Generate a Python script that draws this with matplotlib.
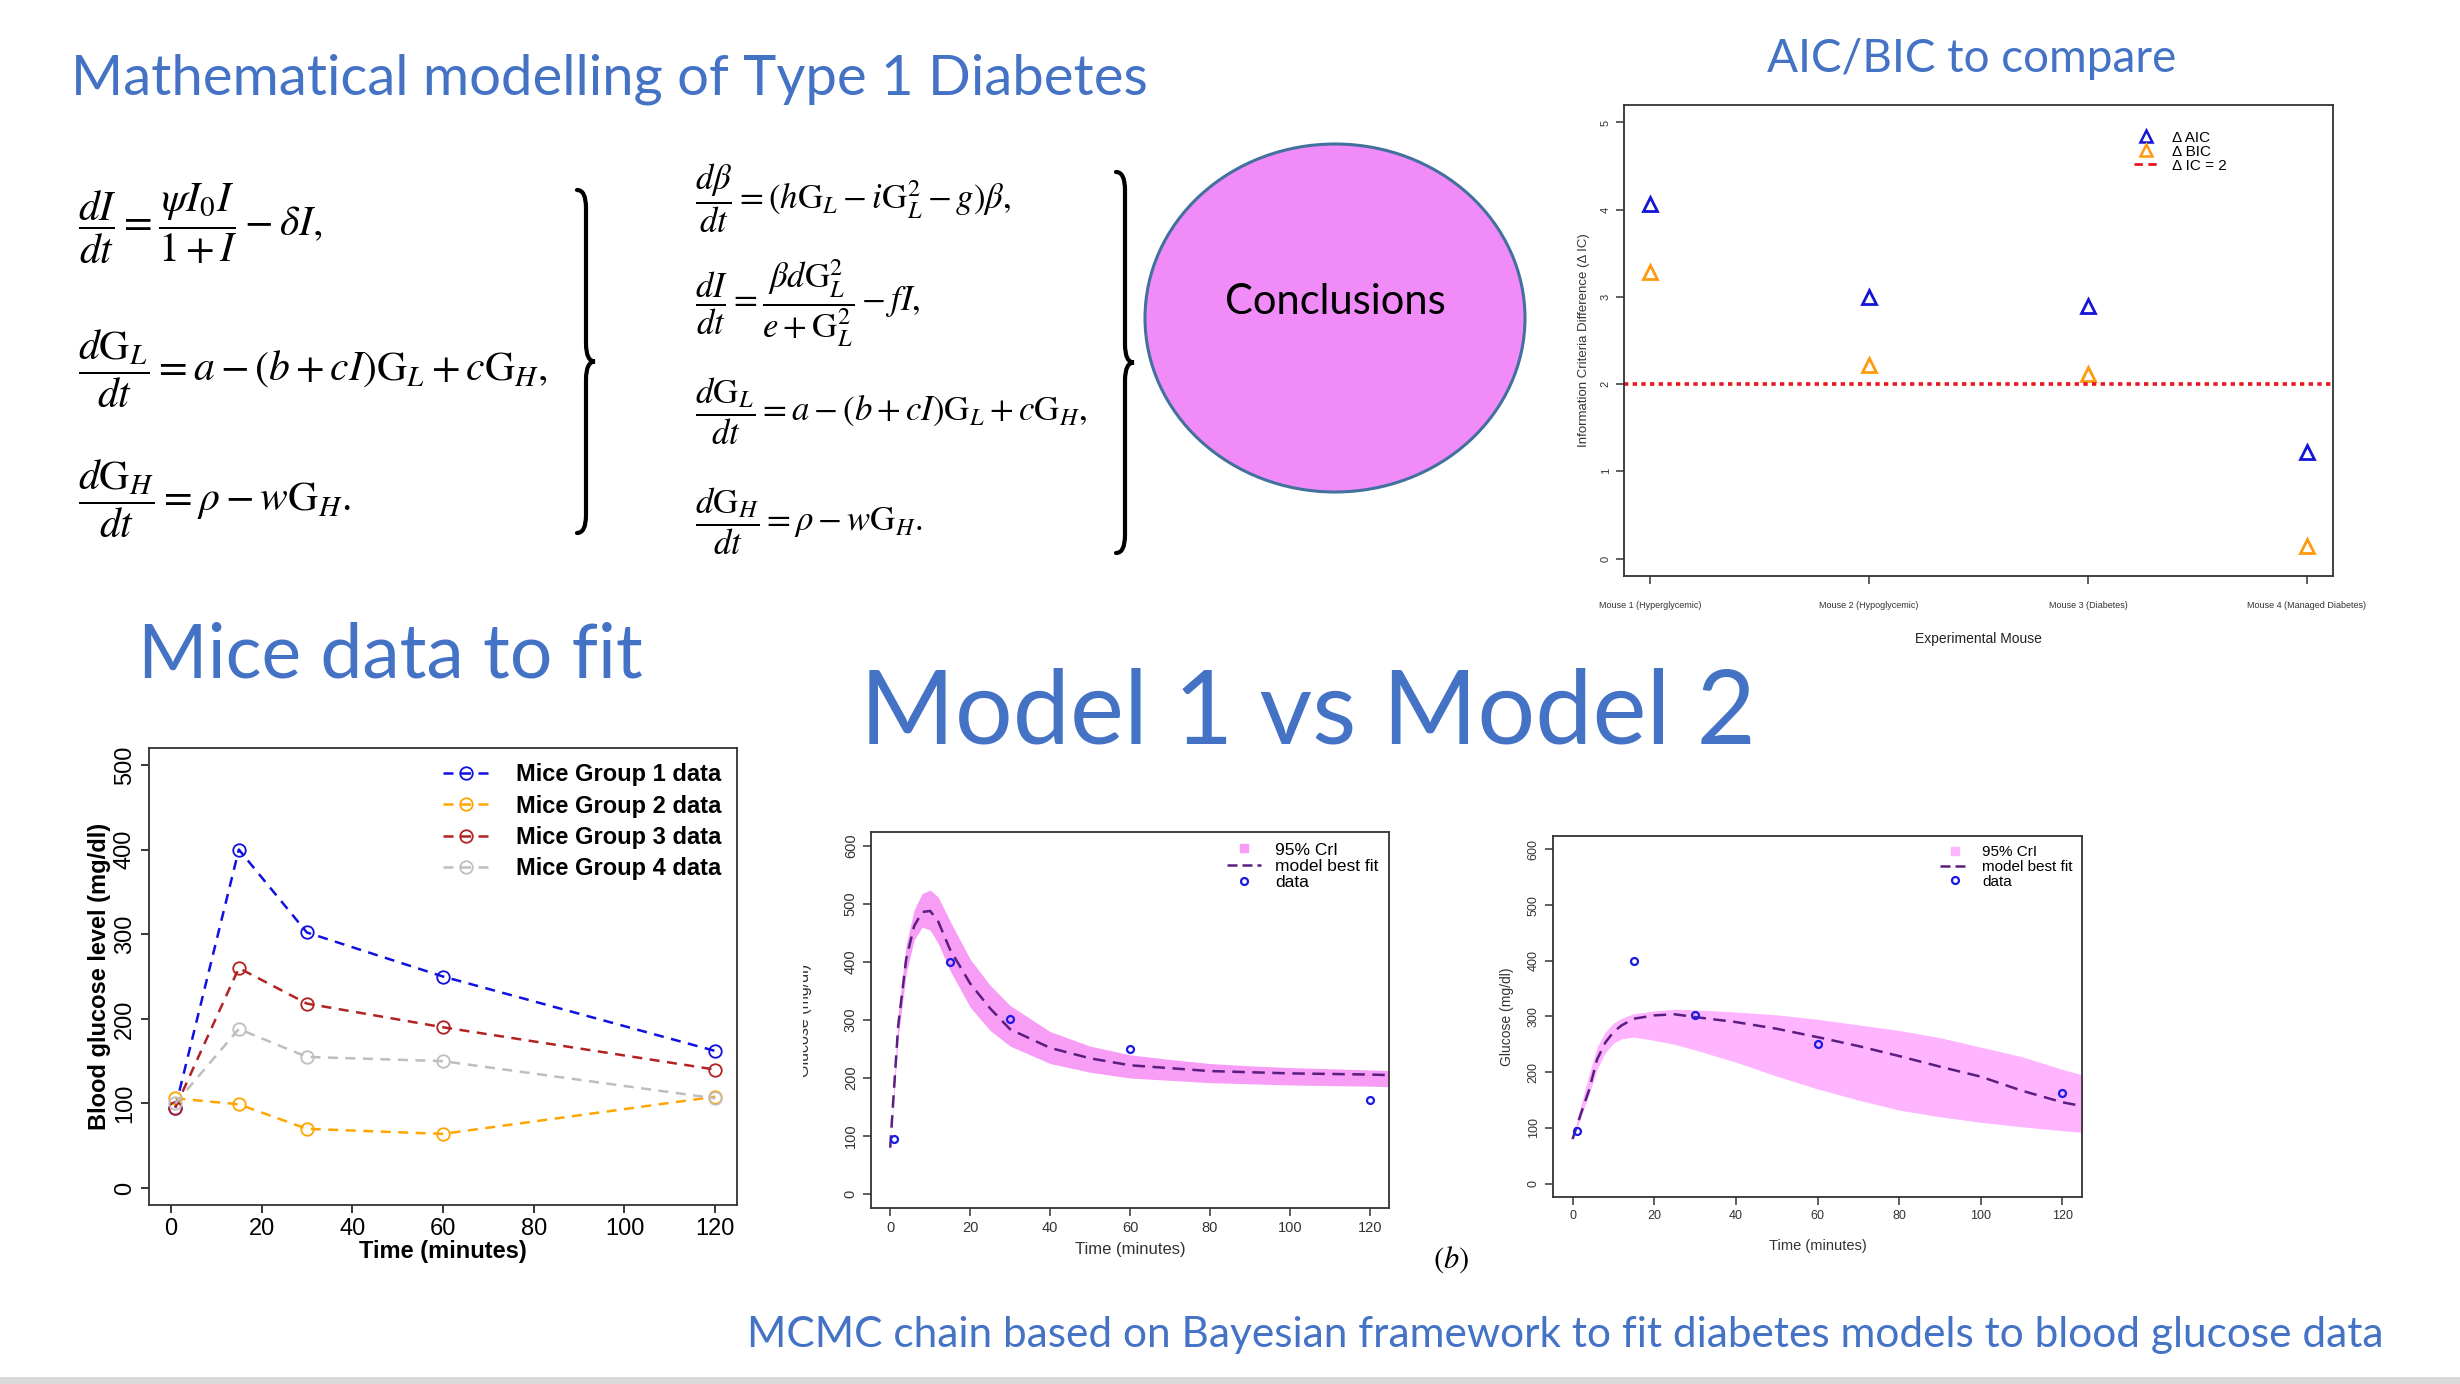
import numpy as np
import matplotlib.pyplot as plt
from matplotlib.patches import Ellipse, Rectangle, PathPatch
from matplotlib.path import Path
from matplotlib.lines import Line2D
from matplotlib.transforms import Bbox

plt.rcParams["mathtext.fontset"] = "stix"

# ---- data ----
mice_time = [1, 15, 30, 60, 120]
group1 = [95, 400, 302, 250, 162]
group2 = [106, 99, 70, 64, 108]
group3 = [95, 260, 218, 190, 140]
group4 = [100, 188, 155, 150, 106]
group_labels = ["Mice Group 1 data", "Mice Group 2 data",
                "Mice Group 3 data", "Mice Group 4 data"]
group_colors = ["#1010E0", "#FFA500", "#B22222", "#BEBEBE"]

mouse_labels = ["Mouse 1 (Hyperglycemic)", "Mouse 2 (Hypoglycemic)",
                "Mouse 3 (Diabetes)", "Mouse 4 (Managed Diabetes)"]
delta_aic = [4.07, 3.00, 2.90, 1.22]
delta_bic = [3.28, 2.22, 2.12, 0.14]
ic_threshold = 2

fit_time = [0, 2, 4, 6, 8, 10, 12, 15, 20, 25, 30, 40, 50, 60, 70, 80, 90,
            100, 110, 120, 125]
m1_fit = [80, 290, 405, 462, 486, 488, 470, 421, 363, 320, 284, 252, 234,
          222, 217, 212, 210, 208, 207, 206, 205]
m1_high = [80, 310, 430, 490, 518, 524, 512, 470, 405, 360, 325, 280, 255,
           240, 232, 225, 221, 218, 216, 214, 213]
m1_low = [80, 270, 380, 438, 460, 455, 432, 385, 322, 282, 255, 225, 210,
          200, 196, 192, 190, 188, 187, 186, 185]

m2_fit = [80, 125, 167, 223, 253, 272, 284, 296, 302, 304, 299, 290, 278,
          263, 247, 229, 210, 192, 167, 146, 139]
m2_high = [80, 140, 195, 245, 272, 288, 297, 305, 310, 313, 312, 308, 303,
           295, 285, 275, 262, 245, 228, 205, 195]
m2_low = [80, 118, 160, 205, 235, 252, 260, 263, 257, 250, 240, 218, 193,
          170, 150, 132, 120, 110, 102, 95, 92]

W, H = 2460, 1384
TITLE_BLUE = "#4472C4"
SLIDE_FONT = "Lato"
R_FONT = "Liberation Sans"
AX_GREY = "#333333"


def brace(ax, x, y0, y1, w, lw=3):
    ym = (y0 + y1) / 2
    h = w * 0.5
    verts = [(x, y0), (x + h, y0), (x + h, y0 + w),
             (x + h, ym - w),
             (x + h, ym), (x + w, ym),
             (x + h, ym), (x + h, ym + w),
             (x + h, y1 - w),
             (x + h, y1), (x, y1)]
    codes = [Path.MOVETO, Path.CURVE3, Path.CURVE3, Path.LINETO,
             Path.CURVE3, Path.CURVE3, Path.CURVE3, Path.CURVE3,
             Path.LINETO, Path.CURVE3, Path.CURVE3]
    ax.add_patch(PathPatch(Path(verts, codes), fill=False, lw=lw,
                           edgecolor="black", capstyle="round"))


def r_style(ax, fs):
    for s in ax.spines.values():
        s.set_linewidth(1.3)
        s.set_color(AX_GREY)
    ax.tick_params(direction="out", length=6, width=1.1, labelsize=fs,
                   colors=AX_GREY, top=False, right=False)
    ax.tick_params(axis="y", labelrotation=90)
    for lab in ax.get_yticklabels():
        lab.set_va("center")
        lab.set_family(R_FONT)
    for lab in ax.get_xticklabels():
        lab.set_family(R_FONT)


def px_axes(fig, x0, y0, x1, y1):
    return fig.add_axes([x0 / W, 1 - y1 / H, (x1 - x0) / W, (y1 - y0) / H])


fig = plt.figure(figsize=(W / 100, H / 100), dpi=100)

# background layer in pixel coordinates (y down)
bg = fig.add_axes([0, 0, 1, 1], zorder=0)
bg.set_xlim(0, W)
bg.set_ylim(H, 0)
bg.axis("off")

bg.add_patch(Rectangle((0, 1377), W, 7, color="#D9D9D9", lw=0))

bg.text(71, 79, "Mathematical modelling of Type 1 Diabetes", color=TITLE_BLUE,
        fontsize=40.5, family=SLIDE_FONT, va="center", ha="left")
bg.text(1972, 59, "AIC/BIC to compare", color=TITLE_BLUE, fontsize=33,
        family=SLIDE_FONT, va="center", ha="center")
bg.text(138, 656, "Mice data to fit", color=TITLE_BLUE, fontsize=54,
        family=SLIDE_FONT, va="center", ha="left")
bg.text(860, 715, "Model 1 vs Model 2", color=TITLE_BLUE, fontsize=73.5,
        family=SLIDE_FONT, va="center", ha="left")
bg.text(747, 1335,
        "MCMC chain based on Bayesian framework to fit diabetes models to blood glucose data",
        color=TITLE_BLUE, fontsize=30.5, family=SLIDE_FONT, va="center", ha="left")
bg.text(1451, 1260, r"$(b)$", fontsize=22, va="center", ha="center")

# equations, model 1
eq_left = [
    r"$\dfrac{dI}{dt} = \dfrac{\psi I_0 I}{1+I} - \delta I,$",
    r"$\dfrac{d\mathrm{G}_L}{dt} = a - (b + cI)\mathrm{G}_L + c\mathrm{G}_H,$",
    r"$\dfrac{d\mathrm{G}_H}{dt} = \rho - w\mathrm{G}_H.$",
]
for s, y in zip(eq_left, [224, 369, 499]):
    bg.text(78, y, s, fontsize=30, va="center", ha="left")
brace(bg, 577, 190, 533, 18)

# equations, model 2
eq_right = [
    r"$\dfrac{d\beta}{dt} = (h\mathrm{G}_L - i\mathrm{G}_L^2 - g)\beta,$",
    r"$\dfrac{dI}{dt} = \dfrac{\beta d\mathrm{G}_L^2}{e + \mathrm{G}_L^2} - fI,$",
    r"$\dfrac{d\mathrm{G}_L}{dt} = a - (b + cI)\mathrm{G}_L + c\mathrm{G}_H,$",
    r"$\dfrac{d\mathrm{G}_H}{dt} = \rho - w\mathrm{G}_H.$",
]
for s, y in zip(eq_right, [198, 303, 411, 521]):
    bg.text(695, y, s, fontsize=25, va="center", ha="left")
brace(bg, 1116, 172, 553, 18)

bg.add_patch(Ellipse((1335, 318), 380, 348, facecolor="#F08BF8",
                     edgecolor="#41719C", lw=2.2))
bg.text(1335, 302, "Conclusions", fontsize=30, family=SLIDE_FONT,
        va="center", ha="center", color="black")

# ---- AIC / BIC ----
ax = px_axes(fig, 1624, 105, 2333, 576)
ax.set_zorder(1)
xpos = np.arange(1, len(mouse_labels) + 1)
ax.plot(xpos, delta_aic, "^", ms=10, mfc="none", mec="#1515D5", mew=2)
ax.plot(xpos, delta_bic, "^", ms=10, mfc="none", mec="#FF9A10", mew=2)
ax.axhline(ic_threshold, color="#E8141E", lw=2.6, ls=(0, (1.2, 1.2)))
ax.set_xlim(0.88, 4.12)
ax.set_ylim(-0.2, 5.2)
ax.set_xticks(xpos)
ax.set_xticklabels(mouse_labels)
ax.set_yticks(range(0, 6))
r_style(ax, 8)
ax.tick_params(axis="x", labelsize=6.5, pad=12)
ax.set_ylabel("Information Criteria Difference (Δ IC)", fontsize=9.5,
              family=R_FONT, color=AX_GREY, labelpad=8)
ax.set_xlabel("Experimental Mouse", fontsize=10, family=R_FONT,
              color="#222222", labelpad=16)
handles = [Line2D([], [], ls="none", marker="^", ms=8, mfc="none",
                  mec="#1515D5", mew=1.8),
           Line2D([], [], ls="none", marker="^", ms=8, mfc="none",
                  mec="#FF9A10", mew=1.8),
           Line2D([], [], color="#E8141E", lw=2, ls=(0, (3, 2)))]
ax.legend(handles, ["Δ AIC", "Δ BIC", "Δ IC = 2"], loc="upper left",
          bbox_to_anchor=(0.70, 0.975), frameon=False, handlelength=1.6,
          labelspacing=0.0, handletextpad=0.9,
          prop={"family": R_FONT, "size": 11})

# ---- mice data ----
ax = px_axes(fig, 149, 748, 737, 1205)
ax.set_zorder(1)
for vals, col, lab in zip([group1, group2, group3, group4], group_colors,
                          group_labels):
    ax.plot(mice_time, vals, ls=(0, (4, 3)), lw=1.8, color=col, marker="o",
            ms=9, mfc="none", mew=1.3, label=lab)
ax.set_xlim(-4.8, 124.8)
ax.set_ylim(-20, 520)
ax.set_xticks(range(0, 121, 20))
ax.set_yticks(range(0, 501, 100))
r_style(ax, 17)
ax.tick_params(colors="black")
ax.set_xlabel("Time (minutes)", fontsize=17, fontweight="bold",
              family=R_FONT, labelpad=0)
ax.set_ylabel("Blood glucose level (mg/dl)", fontsize=17, fontweight="bold",
              family=R_FONT, labelpad=2)
ax.legend(loc="upper right", frameon=False, handlelength=1.9,
          labelspacing=0.35, borderaxespad=0.25, handletextpad=1.2,
          prop={"family": R_FONT, "size": 17, "weight": "bold"})


def fit_panel(box, fit, low, high, band_col, fs, xpad, label_x=None):
    ax = px_axes(fig, *box)
    ax.set_zorder(1)
    ax.fill_between(fit_time, low, high, color=band_col, lw=0)
    ax.plot(fit_time, fit, color="#5A1E80", lw=1.8, ls=(0, (5, 3)))
    ax.plot(mice_time, group1, "o", ms=5, mfc="none", mec="#1A1AE6", mew=1.6)
    ax.set_xlim(-4.8, 124.8)
    ax.set_ylim(-24, 624)
    ax.set_xticks(range(0, 121, 20))
    ax.set_yticks(range(0, 601, 100))
    r_style(ax, fs)
    ax.set_xlabel("Time (minutes)", fontsize=fs + 1.5, family=R_FONT,
                  color=AX_GREY, labelpad=xpad)
    if label_x is None:
        ax.set_ylabel("Glucose (mg/dl)", fontsize=fs + 1, family=R_FONT,
                      color=AX_GREY, labelpad=10)
    else:
        yc = (box[1] + box[3]) / 2
        t = bg.text(label_x, yc, "Glucose (mg/dl)", rotation=90,
                    fontsize=fs + 1, family=R_FONT, color=AX_GREY,
                    ha="center", va="center")
        t.set_clip_on(True)
        t.set_clip_box(Bbox([[label_x - 2, 0], [W, H]]))
    hs = [Line2D([], [], ls="none", marker="s", ms=6, color=band_col),
          Line2D([], [], color="#5A1E80", lw=1.8, ls=(0, (4, 2))),
          Line2D([], [], ls="none", marker="o", ms=5, mfc="none",
                 mec="#1A1AE6", mew=1.6)]
    ax.legend(hs, ["95% CrI", "model best fit", "data"], loc="upper right",
              frameon=False, handlelength=2.0, labelspacing=0.05,
              borderaxespad=0.2, prop={"family": R_FONT, "size": fs + 2})
    return ax


fit_panel((871, 832, 1389, 1208), m1_fit, m1_low, m1_high, "#F79DF6", 10.5,
          5, label_x=805)
fit_panel((1553, 836, 2082, 1197), m2_fit, m2_low, m2_high, "#FFB4FF", 9, 12)

fig.savefig("out.png", dpi=100, facecolor="white")
